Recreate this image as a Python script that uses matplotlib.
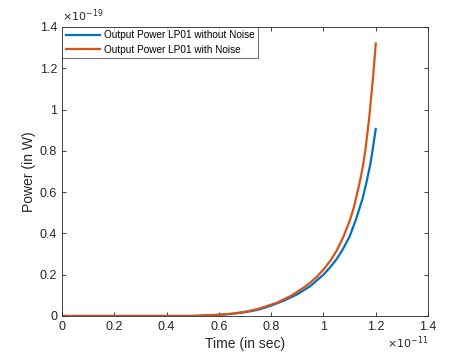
import matplotlib
matplotlib.use("Agg")
import matplotlib.pyplot as plt
from matplotlib.ticker import FormatStrFormatter

plt.rcParams['font.family'] = ['Liberation Sans', 'DejaVu Sans']

# time in units of 1e-11 s, power in units of 1e-19 W
t_clean = [0, 0.3, 0.5, 0.55, 0.6, 0.65, 0.7, 0.75, 0.8, 0.85, 0.9, 0.95, 1.0, 1.025, 1.05, 1.075,
           1.1, 1.125, 1.15, 1.165, 1.18, 1.19, 1.2]
p_clean = [0, 0, 0.0, 0.002, 0.005, 0.01, 0.018, 0.03, 0.05, 0.075, 0.105, 0.145, 0.2, 0.235, 0.275, 0.325,
           0.385, 0.47, 0.57, 0.65, 0.74, 0.82, 0.906]

t_noise = [0, 0.3, 0.5, 0.55, 0.6, 0.65, 0.7, 0.75, 0.8, 0.825, 0.85, 0.875, 0.9, 0.925, 0.95, 0.975, 1.0,
           1.025, 1.05, 1.075, 1.1, 1.115, 1.13, 1.14, 1.15, 1.16, 1.175, 1.19, 1.2]
p_noise = [0, 0, 0.0, 0.003, 0.006, 0.011, 0.02, 0.034, 0.055, 0.066, 0.082, 0.097, 0.117, 0.138, 0.162, 0.19, 0.225,
           0.265, 0.315, 0.38, 0.46, 0.52, 0.6, 0.655, 0.72, 0.8, 0.96, 1.16, 1.32]

fig = plt.figure(figsize=(4.74, 3.55), dpi=100)
ax = fig.add_axes([0.131, 0.110, 0.772, 0.814])

ax.plot(t_clean, p_clean, color='#0072BD', lw=1.6, label='Output Power LP01 without Noise')
ax.plot(t_noise, p_noise, color='#D95319', lw=1.6, label='Output Power LP01 with Noise')

ax.set_xlim(0, 1.4)
ax.set_ylim(0, 1.4)
ax.set_xticks([0, 0.2, 0.4, 0.6, 0.8, 1.0, 1.2, 1.4])
ax.set_yticks([0, 0.2, 0.4, 0.6, 0.8, 1.0, 1.2, 1.4])
ax.xaxis.set_major_formatter(FormatStrFormatter('%g'))
ax.yaxis.set_major_formatter(FormatStrFormatter('%g'))
ax.tick_params(direction='in', top=True, right=True, length=3, width=0.6,
               labelsize=9, colors='#262626')
for s in ax.spines.values():
    s.set_linewidth(0.6)
    s.set_color('#262626')

ax.set_xlabel('Time (in sec)', fontsize=10, color='#262626', labelpad=3)
ax.set_ylabel('Power (in W)', fontsize=10, color='#262626', labelpad=3)

ax.text(0.0, 1.01, r'$\times10^{-19}$', transform=ax.transAxes, fontsize=8,
        color='#262626', ha='left', va='bottom')
fig.text(0.903, 0.012, r'$\times10^{-11}$', fontsize=8,
         color='#262626', ha='right', va='bottom')

leg = ax.legend(loc='upper left', fontsize=7.2, frameon=True, fancybox=False,
                borderaxespad=0.0, handlelength=3.4, borderpad=0.35, labelspacing=0.45,
                handletextpad=0.4)
leg.get_frame().set_edgecolor('#262626')
leg.get_frame().set_linewidth(0.6)

fig.savefig('out.png', dpi=100)
